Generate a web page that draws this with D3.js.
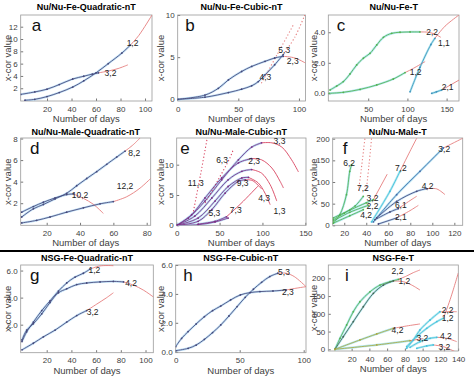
<!DOCTYPE html>
<meta charset="utf-8">
<style>
body { margin:0; background:#fff; font-family: Arial, "Liberation Sans", Helvetica, sans-serif; }
.tick text { font-size: 8px; fill: #404040; }
.tick line { stroke: #777; }
.lab { font-size: 8.5px; fill: #222; }
</style>
<svg width="474" height="377"></svg>
<script src="https://d3js.org/d3.v7.min.js"></script>
<script>

// ---- chart data ----
var titles = ["Nu/Nu-Fe-Quadratic-nT", "Nu/Nu-Fe-Cubic-nT", "Nu/Nu-Fe-T",
              "Nu/Nu-Male-Quadratic-nT", "Nu/Nu-Male-Cubic-nT", "Nu/Nu-Male-T",
              "NSG-Fe-Quadratic-nT", "NSG-Fe-Cubic-nT", "NSG-Fe-T"];
var letters = ["a", "b", "c", "d", "e", "f", "g", "h", "i"];
var xTicks = [[20,40,60,80,100], [0,50,100], [50,100,150],
              [20,40,60,80], [0,50,100,150], [20,40,60,80,100,120],
              [20,40,60,80,100], [0,50,100], [20,40,60,80,100,120,140]];
var yTicks = [[2,4,6,8,10,12], [0,5,10], [0,2,4],
              [2,4,6,8], [0,5,10], [0,50,100,150,200],
              [2,4,6], [0,2,4,6], [0,50,100,150,200]];
var xRanges = [[-1.5,105.7], [0,105.4], [-0.9,165.8],
               [4.4,82.4], [0,150.8], [9.5,127.6],
               [-1.05,106.3], [0,101.8], [-6.3,140.2]];
var yRanges = [[-0.07,13.9], [-0.2,10], [-0.5,5.13],
               [-0.05,8.05], [0,14.4], [0,201.6],
               [-0.07,6.41], [-0.07,6.0], [-4.8,237.5]];

// each curve: fitted part (fit), extrapolation (ext), dotted extrapolation (dot), label
var curvesA = [
  {t:"1,2", lab:[85,9.3], fit:[[2,0.05],[10,0.2],[20,0.65],[30,1.3],[41,2.2],[50,3.2],[60,4.5],[70,6.0],[81,7.7],[88,9.0]], ext:[[95,10.6],[105.7,13.9]]},
  {t:"3,2", lab:[67,4.4], fit:[[-1.5,1.0],[10,1.4],[20,1.85],[30,2.6],[41,3.5],[50,3.95],[57,4.3],[62,4.5]], ext:[[70,4.8],[78,5.2],[86,5.8]]}
];
var curvesB = [
  {t:"5,3", lab:[83,5.9], fit:[[0,0],[22.5,0.5],[33.5,1.3],[41.8,2.3],[52.7,3.3],[61,3.9],[72,4.5],[80,4.9],[87,5.1]], ext:[[96.7,4.9],[105.4,4.3]]},
  {t:"4,3", lab:[67.5,2.7], fit:[[0,0],[22.5,0.25],[41.8,0.8],[52.7,1.2],[61,1.6],[66.5,2.1],[72,2.9],[80,4.1],[87,5.3]], dot:[[96.7,7.4],[105.4,10.2]]},
  {t:"2,3", lab:[90,4.5], fit:[], dot:[[69,1.9],[82,5.3],[95.3,8.8]]}
];
var curvesC = [
  {t:"2,2", lab:[124,4.0], fit:[[1.3,0.22],[9.8,0.48],[18.3,0.77],[26.8,1.27],[35.3,1.86],[43.8,2.3],[52.3,2.62],[60.9,3.17],[69.4,3.67],[80,3.93],[90.6,4.0],[103.4,4.02],[116,4.02]], ext:[[126.8,4.0],[135.3,3.87],[142.6,3.67]]},
  {t:"1,2", lab:[103,1.42], fit:[[0,0],[18.3,0.07],[39.6,0.26],[60.9,0.55],[82,0.94],[97,1.36]], ext:[[107.7,1.64],[122.6,2.08]]},
  {t:"1,1", lab:[139,3.28], c:"teal", fit:[[103.4,0.1],[116,1.7],[130,3.2],[135,3.6]], ext:[[148,4.4],[165.8,5.13]]},
  {t:"2,1", lab:[143.8,0.4], c:"teal", fit:[[131,0],[137,0.1],[143.8,0.22]], ext:[[165.8,0.87]]}
];
var curvesD = [
  {t:"8,2", lab:[69,6.7], fit:[[5,0.72],[12,1.48],[18,1.88],[25,2.4],[32,2.92],[38,3.62],[44,4.29],[50,4.93],[56,5.61],[62,6.28],[67,6.83]], ext:[[72,7.44],[76,8.05]]},
  {t:"10,2", lab:[35,2.75], fit:[[5,1.17],[12,1.69],[18,2.09],[25,2.49],[32,2.8],[36,2.86]], ext:[[42,2.45],[48,1.9],[54,1.05]]},
  {t:"12,2", lab:[62,3.6], fit:[[5,0.17],[14,0.41],[22,0.72],[32,1.17],[42,1.57],[52,1.94],[60,2.15]], ext:[[68,2.6],[76,3.4],[82.4,4.3]]}
];
var curvesE = [
  {t:"3,3", lab:[113,13.9], fit:[[0,0],[13.6,1.2],[33,4],[52.5,7.5],[72,10.8],[87.5,12.9],[99,13.6]], ext:[[111,13.6],[122.6,12.9],[134,10.8],[142,8.8]]},
  {t:"2,3", lab:[83.5,10.6], fit:[[0,0],[17.5,1.76],[33,4.5],[52.5,7.8],[72,10.3],[87.5,11]], ext:[[99,10.8],[111,9.45],[120.6,7.25],[124.5,6.15]]},
  {t:"1,3", lab:[113,2.3], fit:[[0,0],[21,1.5],[41,4.5],[60,7.5],[76,8.9],[87.5,9.2]], ext:[[99,8.6],[109,6.7],[116.7,4.0]]},
  {t:"4,3", lab:[95,4.5], fit:[[0,0],[25,1.2],[44.7,4],[60,6.4],[76,7.8],[83.7,7.9]], ext:[[95,7],[103,5.3],[109,3.4]]},
  {t:"9,3", lab:[70,7.0], fit:[[0,0],[25,0.66],[41,2.6],[56.4,5.3],[72,7.25],[80,7.5]], ext:[[88,7.4],[95,6.6],[99,6.0]]},
  {t:"7,3", lab:[62,2.6], fit:[[25,0.2],[44.7,0.66],[58,1.4]], ext:[[75,3.6],[95,6.5]]},
  {t:"5,3", lab:[37,2.0], fit:[[0,0],[25,0.1],[44.7,0.55],[60,1.2]]},
  {t:"6,3", lab:[46,10.8], fit:[], dot:[[33,3.7],[48,7.4],[62,11.1],[66,12.5]]},
  {t:"11,3", lab:[13,7.0], fit:[], dot:[[19.5,2.3],[28,8.5],[37,15.5]]}
];
var curvesF = [
  {t:"6,2", lab:[19,144], fit:[[10,5],[16,24.6],[22,70.8],[25,124.6],[26.7,140]]},
  {t:"", fit:[], dot:[[33,80],[35.5,130],[38.8,201]]},
  {t:"", fit:[], dot:[[40,80],[42.5,140],[44.8,201]]},
  {t:"7,2", lab:[31.5,85], fit:[[10,13],[20,28],[30,45],[37.3,67]]},
  {t:"3,2", lab:[40.3,64], fit:[[10,17],[25,35],[40,52],[46.4,59]], ext:[[59,118]]},
  {t:"2,2", lab:[40.3,44], fit:[[10,10],[25,30],[41.8,46]]},
  {t:"4,2", lab:[34.5,24], fit:[[10,5],[25,22],[37.3,36]]},
  {t:"3,2", lab:[105.5,177], c:"steel", fit:[[46.4,7.7],[67.6,70.8],[88.8,124.6],[110,178.5]], ext:[[119,190],[127.6,201]]},
  {t:"7,2", lab:[66,132], c:"cyan", fit:[[44.8,7.7],[61.5,78.5],[70.6,124.6]], ext:[[79.7,170.8],[85.8,201]]},
  {t:"4,2", lab:[90.3,90], c:"navy", fit:[[49.4,17],[67.6,55],[85.8,78.5],[94.8,84.6]], ext:[[104,84],[111.5,70.8]]},
  {t:"6,1", lab:[66,46], c:"navy", fit:[[47.9,13],[61.5,30.8],[69,38.5]], ext:[[79.7,57],[85.8,67]]},
  {t:"2,1", lab:[66,19], c:"navy", fit:[[51,3],[67.6,17]], ext:[[79.7,33.8],[87.3,46]]}
];
var curvesG = [
  {t:"1,2", lab:[53.8,6.05], fit:[[0,0.75],[3.8,1.47],[9.2,2.19],[16,3.04],[22.7,3.76],[29.5,4.48],[36.2,5.08],[43,5.52],[49.7,5.8],[55,6.1]], ext:[[63,6.34],[74,6.36]]},
  {t:"4,2", lab:[83.5,5.1], fit:[[0,0.87],[3.8,1.6],[9.2,2.07],[16,2.8],[22.7,3.64],[29.5,4.36],[36.2,4.65],[44.3,4.96],[52.4,5.08],[63.2,5.16],[74,5.2],[82.2,5.16]], ext:[[90.3,4.92],[98.4,4.55],[106.3,4.05]]},
  {t:"3,2", lab:[52.4,2.9], fit:[[0,0.14],[9.2,0.63],[17.3,1.1],[26.8,1.6],[36.2,2.19],[44.3,2.67],[52.4,3.04]], ext:[[60.5,3.52],[68.6,4.0],[74,4.36]]}
];
var curvesH = [
  {t:"2,3", lab:[83,4.16], fit:[[0,0.35],[4.6,0.92],[9.7,1.39],[16,1.92],[22.4,2.42],[28.8,2.84],[35.2,3.16],[42.9,3.58],[50.5,3.93],[58.2,4.09],[65.8,4.16],[76,4.2],[86.2,4.27]], ext:[[93.9,4.39],[101.8,4.5]]},
  {t:"5,3", lab:[80,5.54], fit:[[0,0.07],[9.7,0.23],[16,0.46],[22.4,0.85],[28.8,1.32],[35.2,1.85],[41.6,2.47],[48,3.12],[54.3,3.76],[60.7,4.32],[67.1,4.8],[73.5,5.2],[79.8,5.43]], ext:[[86.2,5.43],[92.6,5.2],[101.8,4.5]]}
];
var curvesI = [
  {t:"2,2", lab:[65,221], fit:[[1.2,0],[6.9,31],[14.4,68.5],[21.9,106],[29.4,134],[40.7,162],[52,181],[63.3,190.6],[72.7,197]], ext:[[82,206.6],[89.5,216],[97,223.5]]},
  {t:"1,2", lab:[72.7,193], c:"dark", fit:[[1.2,0],[10.6,35.7],[21.9,78],[33.2,120],[44.5,157.7],[55.8,181],[67,192.5]], ext:[[78.3,190.6],[87.7,181],[97,167]]},
  {t:"4,2", lab:[65,54.5], c:"olive", fit:[[1.2,0],[29.4,26.3],[48.3,43.2],[67,59]], ext:[[82,65.7],[97,71.4]]},
  {t:"3,2", lab:[93,31], c:"olive", fit:[[1.2,0],[48.3,12.2],[85.8,24.4]], ext:[[100.8,30]]},
  {t:"2,2", lab:[121.5,110.8], c:"cyan", fit:[[82,2.8],[89.5,26.3],[97,54.5],[108.4,82.6],[119.6,106]], ext:[[127,106],[138.4,106]]},
  {t:"1,2", lab:[121.5,87], c:"cyan", fit:[[82,7.5],[93.4,35.7],[104.6,59],[116,78],[123.4,87.3]], ext:[[131,140],[140.2,215]]},
  {t:"4,2", lab:[119.6,37.6], c:"cyan", fit:[[85.8,5.6],[97,21.6],[108.4,31],[116,33.8]], ext:[[127,31],[138.4,21.6]]},
  {t:"3,2", lab:[117.8,5.6], c:"cyan", fit:[[93.4,2.8],[104.6,9.4],[112,12.2]], ext:[[123.4,7.5],[136.5,-6.6]]}
];
var panelCurves = [curvesA, curvesB, curvesC, curvesD, curvesE, curvesF, curvesG, curvesH, curvesI];

// ---- layout ----
var boxes = [[20.7,15,152,101], [177.7,15,305.5,101], [328.3,15,459,101],
             [20.7,138,150.7,225.3], [176.7,138,306,225.3], [332.7,138,462.7,225.3],
             [20.7,265,153.3,352.7], [175.7,265,306,352.7], [328.3,265,458.3,351]];
var titleY = [9.5, 135, 261];
var ylabX = [10.5, 163.5, 317];
var letterDx = [11, 7.5, 8.4, 9.3, 3.5, 10, 9.3, 7.6, 16.7];
var panelColor = ["navy","navy","green","navy","purple","green","navy","navy","green"];

var colors = {
  navy: "#46487a", purple: "#7d2f85", green: "#55b24f", teal: "#3f93bd",
  cyan: "#45c2dd", steel: "#4569a8", olive: "#aca83e", dark: "#44604f"
};
var under = { navy: "#b3daf5", purple: "#aad6f2", steel: "#a0dcef" };
var extColor = function(i) { return i === 4 ? "#d8435f" : "#e57d7d"; };

var svg = d3.select("svg");
var line = d3.line().curve(d3.curveCatmullRom.alpha(0.5));

boxes.forEach(function(b, i) {
  var row = Math.floor(i / 3), col = i % 3;
  var x = d3.scaleLinear().domain(xRanges[i]).range([b[0], b[2]]);
  var y = d3.scaleLinear().domain(yRanges[i]).range([b[3], b[1]]);
  var g = svg.append("g");

  svg.append("clipPath").attr("id", "clip" + i)
    .append("rect").attr("x", b[0]).attr("y", b[1])
    .attr("width", b[2] - b[0]).attr("height", b[3] - b[1]);

  // axes
  g.append("g").attr("transform", "translate(0," + b[3] + ")")
    .call(d3.axisBottom(x).tickValues(xTicks[i]).tickSizeInner(-2.5).tickSizeOuter(0).tickPadding(5))
    .call(function(s) { s.select(".domain").remove(); s.selectAll("text").attr("font-family", null); });
  g.append("g").attr("transform", "translate(" + b[0] + ",0)")
    .call(d3.axisLeft(y).tickValues(yTicks[i]).tickSizeInner(-2.5).tickSizeOuter(0).tickPadding(3))
    .call(function(s) { s.select(".domain").remove(); s.selectAll("text").attr("font-family", null); });

  g.append("rect").attr("x", b[0]).attr("y", b[1])
    .attr("width", b[2] - b[0]).attr("height", b[3] - b[1])
    .attr("fill", "none").attr("stroke", "#9a9a9a").attr("stroke-width", 0.8);

  // curves
  var plot = g.append("g").attr("clip-path", "url(#clip" + i + ")");
  var curves = panelCurves[i];
  var px = function(p) { return [x(p[0]), y(p[1])]; };

  curves.forEach(function(c) {
    var k = c.c || panelColor[i];
    if (c.fit.length < 2) return;
    plot.append("path").attr("d", line(c.fit.map(px)))
      .attr("fill", "none").attr("stroke", under[k] || "#9fe2ec")
      .attr("stroke-width", 2.2).attr("stroke-opacity", 0.8);
  });
  curves.forEach(function(c) {
    var last = c.fit.length ? [c.fit[c.fit.length - 1]] : [];
    if (c.ext) plot.append("path").attr("d", line(last.concat(c.ext).map(px)))
      .attr("fill", "none").attr("stroke", extColor(i)).attr("stroke-width", 0.9);
    if (c.dot) plot.append("path").attr("d", line(last.concat(c.dot).map(px)))
      .attr("fill", "none").attr("stroke", extColor(i)).attr("stroke-width", 1.1)
      .attr("stroke-dasharray", "1.2,2.2");
  });
  curves.forEach(function(c) {
    var k = c.c || panelColor[i];
    if (c.fit.length < 2) return;
    plot.append("path").attr("d", line(c.fit.map(px)))
      .attr("fill", "none").attr("stroke", colors[k]).attr("stroke-width", 0.85);
    plot.selectAll(null).data(c.fit).enter().append("circle")
      .attr("cx", function(d) { return x(d[0]); })
      .attr("cy", function(d) { return y(d[1]); })
      .attr("r", 0.9).attr("fill", colors[k]);
  });
  curves.forEach(function(c) {
    if (!c.t) return;
    g.append("text").attr("class", "lab")
      .attr("x", x(c.lab[0])).attr("y", y(c.lab[1])).attr("dy", "0.35em")
      .attr("font-size", i === 5 ? 7.5 : null)
      .text(c.t);
  });

  // texts
  g.append("text").attr("x", (b[0] + b[2]) / 2).attr("y", titleY[row])
    .attr("text-anchor", "middle").attr("font-size", 9).attr("font-weight", "bold")
    .text(titles[i]);
  g.append("text").attr("x", b[0] + letterDx[i]).attr("y", b[1] + 15.5)
    .attr("font-size", 17).attr("fill", "#111").text(letters[i]);
  g.append("text").attr("x", (b[0] + b[2]) / 2).attr("y", b[3] + 21)
    .attr("text-anchor", "middle").attr("font-size", 9.5).attr("fill", "#404040")
    .text("Number of days");
  g.append("text")
    .attr("transform", "translate(" + ylabX[col] + "," + ((b[1] + b[3]) / 2) + ") rotate(-90)")
    .attr("text-anchor", "middle").attr("font-size", 9.5).attr("fill", "#404040")
    .text("x-cor value");
});

// separator between the Nu/Nu rows and the NSG row
svg.append("line").attr("x1", 0).attr("x2", 474).attr("y1", 251).attr("y2", 251)
  .attr("stroke", "#000").attr("stroke-width", 2);

</script>
